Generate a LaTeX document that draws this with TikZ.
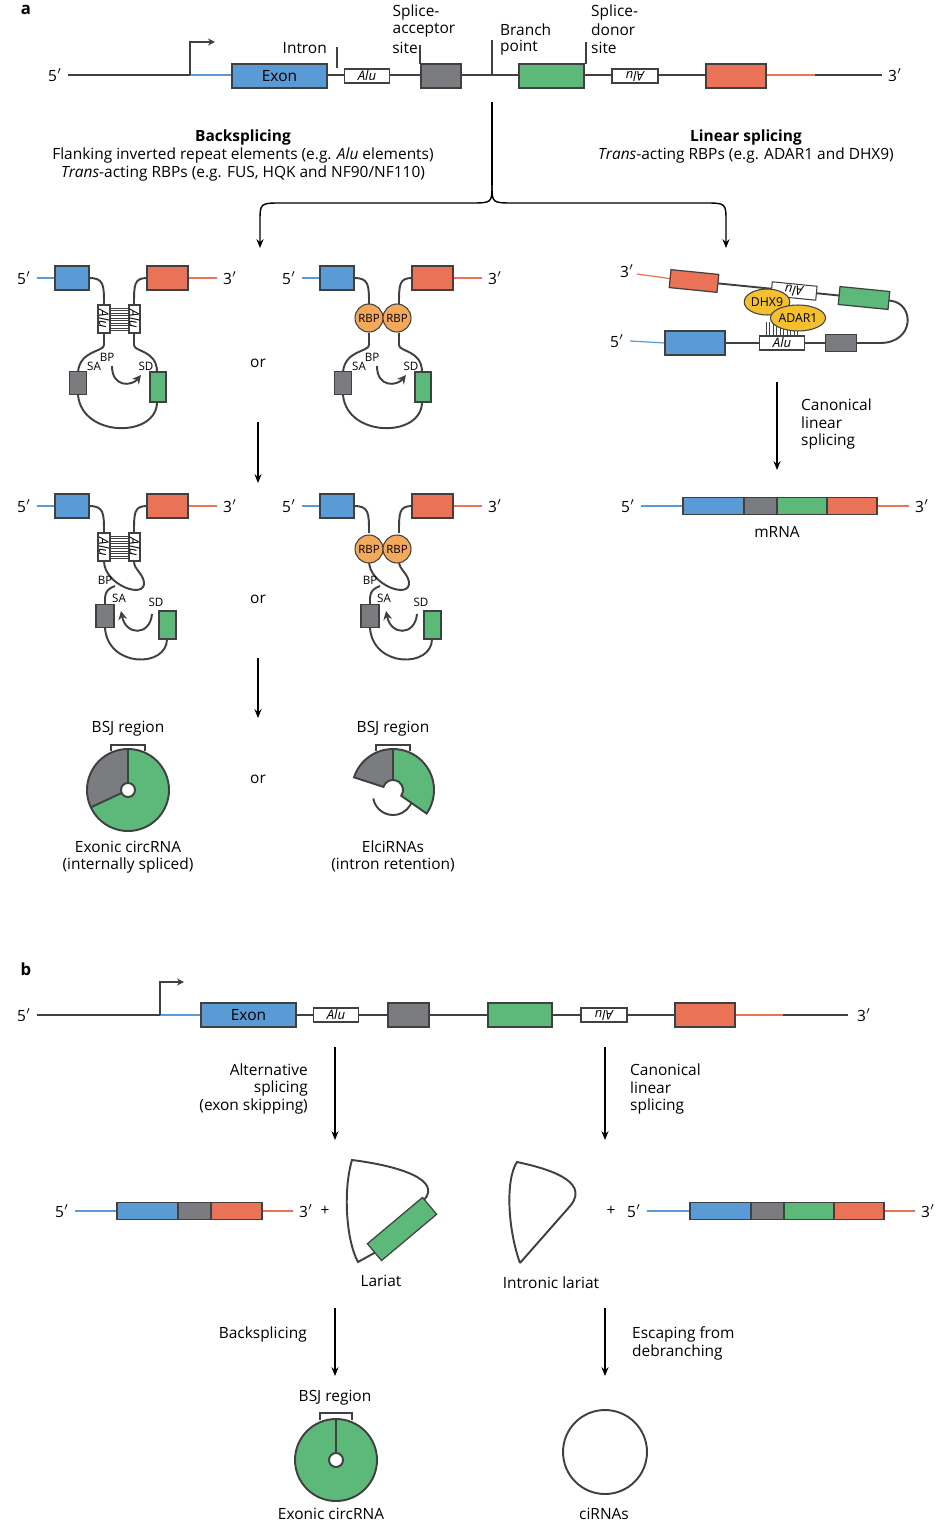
\documentclass[tikz,border=0pt]{standalone}
\usepackage{fontspec}
\setmainfont{Open Sans}
\usetikzlibrary{arrows.meta,shapes.geometric}
\definecolor{exblue}{RGB}{91,155,213}
\definecolor{exred}{RGB}{233,114,87}
\definecolor{exgrey}{RGB}{122,124,128}
\definecolor{exgreen}{RGB}{92,185,122}
\definecolor{rbporange}{RGB}{242,169,92}
\definecolor{helyellow}{RGB}{244,192,48}
\definecolor{strandc}{RGB}{64,64,64}
\tikzset{
  strand/.style={draw=strandc, line width=1.1pt},
  thinstr/.style={draw=strandc, line width=0.7pt},
  flow/.style={draw=black, line width=0.8pt, -{Stealth[length=5pt,width=4pt]}},
  gbox/.style={draw=strandc, line width=0.7pt, inner sep=0pt, minimum height=0.48cm},
  alubox/.style={draw=strandc, fill=white, line width=0.6pt, inner sep=0pt, minimum height=0.28cm, font=\fontsize{7.5}{8}\selectfont\itshape},
  rbp/.style={circle, draw=strandc, fill=rbporange, line width=0.6pt, inner sep=0pt, minimum size=0.56cm, font=\fontsize{6.5}{7}\selectfont},
  prot/.style={ellipse, draw=strandc, fill=helyellow, line width=0.6pt, inner sep=0pt, font=\fontsize{7}{8}\selectfont},
  lbl/.style={font=\fontsize{8.8}{10}\selectfont},
  sml/.style={font=\fontsize{6.6}{7}\selectfont}
}
% box spanning x from #2 to #3 at height #4
\newcommand\gene[5]{\node[gbox, fill=#5, minimum width={(#3-#2)*0.02cm}] (#1) at ({(#2+#3)/2},#4) {};}
\begin{document}
\begin{tikzpicture}[x=0.02cm, y=-0.02cm, every node/.style={lbl}]
\useasboundingbox (0,0) rectangle (942,1540);
\node[font=\fontsize{9.5}{10}\selectfont\bfseries] (pa) at (26,10) {a};
\node[font=\fontsize{9.5}{10}\selectfont\bfseries] (pb) at (26,969) {b};

% ---- panel a: gene ----
\node (a5) at (55,75) {5$'$};
\node (a3) at (895,75) {3$'$};
\draw[strand] (a5.east) -- (a3.west);
\draw[thinstr, exblue] (190,75) -- (232,75);
\draw[thinstr, exred] (766,75) -- (815,75);
\draw[thinstr, -{Stealth[length=4pt,width=4pt]}] (190,75) -- (190,42) -- (215,42);
\gene{aex}{232}{327}{76}{exblue}
\node[lbl] at (aex) {Exon};
\node[alubox, minimum width=0.9cm] (aalu) at (367,76) {Alu};
\gene{agr}{421}{461}{76}{exgrey}
\gene{agn}{519}{584}{76}{exgreen}
\node[alubox, minimum width=0.92cm] (aula) at (635,76) {\rotatebox{180}{Alu}};
\gene{ard}{706}{766}{76}{exred}
\draw[thinstr] (337,47) -- (337,68);
\draw[thinstr] (420,45) -- (420,64);
\draw[thinstr] (492,40) -- (492,75);
\draw[thinstr] (586,42) -- (586,64);
\node[anchor=east] at (333,48) {Intron};
\node at (416,12) {Splice-};
\node at (424,30) {acceptor};
\node at (405,48) {site};
\node[anchor=west] at (494,30) {Branch};
\node[anchor=west] at (494,48) {point};
\node[anchor=west] at (585,12) {Splice-};
\node[anchor=west] at (585,30) {donor};
\node[anchor=west] at (585,48) {site};

\node[font=\fontsize{8.8}{10}\selectfont\bfseries] at (243,137) {Backsplicing};
\node at (243,155) {Flanking inverted repeat elements (e.g. \textit{Alu} elements)};
\node at (243,173) {\textit{Trans}-acting RBPs (e.g. FUS, HQK and NF90/NF110)};
\node[font=\fontsize{8.8}{10}\selectfont\bfseries] at (746,137) {Linear splicing};
\node at (746,155) {\textit{Trans}-acting RBPs (e.g. ADAR1 and DHX9)};

\coordinate (split) at (492,102);
\draw[thinstr, draw=black, line width=0.8pt] (split) -- (492,185);
\draw[flow] (492,185) .. controls (492,203) .. (470,203) -- (282,203) .. controls (260,203) .. (260,222) -- (260,248);
\draw[flow] (492,185) .. controls (492,203) .. (514,203) -- (704,203) .. controls (726,203) .. (726,222) -- (726,248);

% ---- backsplicing, first row ----
\foreach \dx in {0,265}{
  \begin{scope}[xshift=\dx*0.02cm]
    \node (f\dx) at (24,278) {5$'$};
    \node (t\dx) at (230,278) {3$'$};
    \draw[thinstr, exblue] (f\dx.east) -- (55,278);
    \draw[thinstr, exred] (188,278) -- (t\dx.west);
    \draw[strand] (89,278) .. controls (104,278) and (104,285) .. (104,305);
    \draw[strand] (147,278) .. controls (134,278) and (134,285) .. (134,305);
    \draw[strand] (104,333) -- (104,345) .. controls (104,352) and (80,350) .. (78,372);
    \draw[strand] (134,333) -- (134,345) .. controls (134,352) and (157,350) .. (157,372);
    \draw[strand] (78,395) .. controls (82,438) and (157,438) .. (157,402);
    \gene{bl\dx}{55}{89}{278}{exblue}
    \gene{rd\dx}{147}{188}{278}{exred}
    \node[gbox, fill=exgrey, minimum width=0.34cm, minimum height=0.46cm] (gr\dx) at (78,383) {};
    \node[gbox, fill=exgreen, minimum width=0.32cm, minimum height=0.6cm] (gn\dx) at (158,387) {};
    \node[sml] at (94,366) {SA};
    \node[sml] at (107,357) {BP};
    \node[sml] at (146,366) {SD};
    \draw[strand, -{Stealth[length=5pt,width=5pt]}] (112,366) .. controls (112,388) and (132,386) .. (141,375);
  \end{scope}
}
\node[alubox, minimum width=0.56cm, minimum height=0.24cm, rotate=-90] (la1) at (104,319) {Alu};
\node[alubox, minimum width=0.56cm, minimum height=0.22cm, rotate=-90] (ra1) at (134.5,319) {Alu};
\foreach \yy in {308,310.5,...,331}{\draw[thinstr, line width=0.5pt] (110,\yy) -- (129,\yy);}
\node[rbp] (rbpa) at (369,318) {RBP};
\node[rbp] (rbpb) at (397,318) {RBP};
\node at (258,363) {or};
\draw[flow] (258,422) -- (258,483);

% ---- backsplicing, second row ----
\foreach \dx in {0,265}{
  \begin{scope}[xshift=\dx*0.02cm]
    \node (ff\dx) at (24,506) {5$'$};
    \node (tt\dx) at (230,506) {3$'$};
    \draw[thinstr, exblue] (ff\dx.east) -- (55,506);
    \draw[thinstr, exred] (188,506) -- (tt\dx.west);
    \draw[strand] (89,506) .. controls (104,506) and (104,513) .. (104,533);
    \draw[strand] (147,506) .. controls (134,506) and (134,513) .. (134,533);
    \draw[strand] (104,561) .. controls (104,585) and (146,600) .. (144,582) .. controls (142,572) and (134,570) .. (134,561);
    \draw[strand] (115,586) .. controls (104,590) and (105,596) .. (105,605);
    \draw[strand] (105,628) .. controls (108,668) and (167,668) .. (167,639);
    \gene{bbl\dx}{55}{89}{506}{exblue}
    \gene{brd\dx}{147}{188}{506}{exred}
    \node[gbox, fill=exgrey, minimum width=0.36cm, minimum height=0.46cm] (bgr\dx) at (105,616) {};
    \node[gbox, fill=exgreen, minimum width=0.34cm, minimum height=0.56cm] (bgn\dx) at (167.5,625) {};
    \node[sml] at (105,580) {BP};
    \node[sml] at (119,598) {SA};
    \node[sml] at (156,602) {SD};
    \draw[strand, -{Stealth[length=5pt,width=5pt]}] (152,614) .. controls (150,636) and (126,636) .. (121,611);
  \end{scope}
}
\node[alubox, minimum width=0.56cm, minimum height=0.24cm, rotate=-90] (la2) at (104,547) {Alu};
\node[alubox, minimum width=0.56cm, minimum height=0.22cm, rotate=-90] (ra2) at (134.5,547) {Alu};
\foreach \yy in {536,538.5,...,559}{\draw[thinstr, line width=0.5pt] (110,\yy) -- (129,\yy);}
\node[rbp] (rbpc) at (369,549) {RBP};
\node[rbp] (rbpd) at (397,549) {RBP};
\node at (258,599) {or};
\draw[flow] (258,658) -- (258,718);

% ---- circRNA products ----
\node at (128,729) {BSJ region};
\draw[thinstr] (111,751) -- (111,745) -- (145,745) -- (145,751);
\begin{scope}[shift={(128,790)}, y=0.02cm]
  \fill[exgreen] (0,0) circle[radius=41];
  \fill[exgrey] (0,0) -- (90:41) arc[start angle=90, end angle=205, radius=41] -- cycle;
  \draw[strand] (0,0) circle[radius=41];
  \draw[strand] (0,0) -- (90:41) (0,0) -- (205:41);
  \draw[strand, fill=white] (0,0) circle[radius=7];
\end{scope}
\node at (128,847) {Exonic circRNA};
\node at (128,865) {(internally spliced)};
\node at (258,779) {or};
\node at (393,729) {BSJ region};
\draw[thinstr] (376,751) -- (376,745) -- (410,745) -- (410,751);
\begin{scope}[shift={(393,790)}, y=0.02cm]
  \draw[strand] (0,-5) ++(190:20) arc[start angle=190, end angle=345, radius=20];
  \draw[strand, fill=exgreen] (90:10) -- (90:41) arc[start angle=90, end angle=-35, radius=41] -- (-35:10) arc[start angle=-35, end angle=90, radius=10] -- cycle;
  \draw[strand, fill=exgrey] (90:10) -- (90:41) arc[start angle=90, end angle=162, radius=41] -- (162:10) arc[start angle=162, end angle=90, radius=10] -- cycle;
\end{scope}
\node at (393,847) {ElciRNAs};
\node at (393,865) {(intron retention)};

% ---- linear splicing ----
\node (r3) at (627,271) {3$'$};
\node (r5) at (617,341) {5$'$};
\draw[thinstr, exred] (637,274) -- (670,278.6);
\draw[strand] (670,278.6) -- (890,300.6) .. controls (915,303) and (915,343) .. (880,343) -- (665,343);
\draw[thinstr, exblue] (r5.east) -- (665,343);
\node[gbox, fill=exred, minimum width=0.96cm, minimum height=0.36cm, rotate=-5.7] (rrd) at (694,281) {};
\node[alubox, minimum width=0.9cm, rotate=-5.7] (rula) at (794,291) {\rotatebox{180}{Alu}};
\node[gbox, fill=exgreen, minimum width=1cm, minimum height=0.36cm, rotate=-5.7] (rgn) at (864,298) {};
\gene{rbl}{665}{725}{343}{exblue}
\node[gbox, fill=exgrey, minimum width=0.62cm, minimum height=0.34cm] (rgr) at (841,343) {};
\node[alubox, minimum width=0.9cm] (ralu) at (782,343) {Alu};
\foreach \xx in {766,769.5,...,800}{\draw[thinstr, line width=0.5pt] (\xx,322) -- (\xx,336);}
\node[prot, minimum width=0.8cm, minimum height=0.52cm] (dhx) at (767,302) {DHX9};
\node[prot, minimum width=0.96cm, minimum height=0.52cm] (adar) at (798,318) {ADAR1};
\draw[flow] (777,382) -- (777,470);
\node[anchor=west] at (795,405) {Canonical};
\node[anchor=west] at (795,423) {linear};
\node[anchor=west] at (795,441) {splicing};
\node (m5) at (628,506) {5$'$};
\node (m3) at (922,506) {3$'$};
\draw[thinstr, exblue] (m5.east) -- (683,506);
\draw[thinstr, exred] (877,506) -- (m3.west);
\node[gbox, fill=exblue, minimum width=1.22cm, minimum height=0.34cm] (mbl) at (713.5,506) {};
\node[gbox, fill=exgrey, minimum width=0.66cm, minimum height=0.34cm] (mgr) at (760.5,506) {};
\node[gbox, fill=exgreen, minimum width=1cm, minimum height=0.34cm] (mgn) at (802,506) {};
\node[gbox, fill=exred, minimum width=1cm, minimum height=0.34cm] (mrd) at (852,506) {};
\node at (777,532) {mRNA};

% ---- panel b: gene ----
\node (b5) at (24,1015) {5$'$};
\node (b3) at (864,1015) {3$'$};
\draw[strand] (b5.east) -- (848,1015);
\draw[thinstr, exblue] (160,1015) -- (201,1015);
\draw[thinstr, exred] (735,1015) -- (783,1015);
\draw[thinstr, -{Stealth[length=4pt,width=4pt]}] (160,1015) -- (160,982) -- (184,982);
\gene{bex}{201}{296}{1015}{exblue}
\node at (bex) {Exon};
\node[alubox, minimum width=0.9cm] (balu) at (336,1015) {Alu};
\gene{bgr}{388}{429}{1015}{exgrey}
\gene{bgn}{488}{552}{1015}{exgreen}
\node[alubox, minimum width=0.92cm] (bula) at (604,1015) {\rotatebox{180}{Alu}};
\gene{brd}{675}{735}{1015}{exred}

\draw[flow] (335,1047) -- (335,1140);
\node[anchor=east] at (314,1070) {Alternative};
\node[anchor=east] at (314,1088) {splicing};
\node[anchor=east] at (314,1106) {(exon skipping)};
\draw[flow] (605,1047) -- (605,1140);
\node[anchor=west] at (624,1070) {Canonical};
\node[anchor=west] at (624,1088) {linear};
\node[anchor=west] at (624,1106) {splicing};

% skipped mRNA, lariat
\node (s5) at (62,1211) {5$'$};
\node (s3) at (306,1211) {3$'$};
\draw[thinstr, exblue] (s5.east) -- (117,1211);
\draw[thinstr, exred] (262,1211) -- (s3.west);
\node[gbox, fill=exblue, minimum width=1.22cm, minimum height=0.34cm] (sbl) at (147.5,1211) {};
\node[gbox, fill=exgrey, minimum width=0.66cm, minimum height=0.34cm] (sgr) at (194.5,1211) {};
\node[gbox, fill=exred, minimum width=1.02cm, minimum height=0.34cm] (srd) at (236.5,1211) {};
\node at (325,1211) {+};
\draw[strand] (424,1200) .. controls (442,1180) and (400,1166) .. (352,1160) .. controls (343,1190) and (346,1240) .. (358,1262) -- (376,1252);
\node[gbox, fill=exgreen, minimum width=1.44cm, minimum height=0.44cm, rotate=40] (lgn) at (402,1229) {};
\node at (381,1281) {Lariat};
\draw[strand] (520,1263) .. controls (508,1230) and (505,1180) .. (517,1162) .. controls (545,1168) and (590,1180) .. (571,1205) -- (520,1263);
\node at (551,1283) {Intronic lariat};
\node at (611,1211) {+};
\node (c5) at (634,1211) {5$'$};
\node (c3) at (928,1211) {3$'$};
\draw[thinstr, exblue] (c5.east) -- (690,1211);
\draw[thinstr, exred] (884,1211) -- (c3.west);
\node[gbox, fill=exblue, minimum width=1.22cm, minimum height=0.34cm] (cbl) at (720.5,1211) {};
\node[gbox, fill=exgrey, minimum width=0.66cm, minimum height=0.34cm] (cgr) at (767.5,1211) {};
\node[gbox, fill=exgreen, minimum width=1cm, minimum height=0.34cm] (cgn) at (809,1211) {};
\node[gbox, fill=exred, minimum width=1cm, minimum height=0.34cm] (crd) at (859,1211) {};

\draw[flow] (335,1308) -- (335,1376);
\node[anchor=east] at (313,1334) {Backsplicing};
\draw[flow] (605,1308) -- (605,1376);
\node[anchor=west] at (626,1334) {Escaping from};
\node[anchor=west] at (626,1352) {debranching};

\node at (335,1398) {BSJ region};
\draw[thinstr] (320,1420) -- (320,1413) -- (352,1413) -- (352,1420);
\begin{scope}[shift={(336,1460)}, y=0.02cm]
  \draw[strand, fill=exgreen] (0,0) circle[radius=41];
  \draw[strand] (0,0) -- (90:41);
  \draw[strand, fill=white] (0,0) circle[radius=7];
\end{scope}
\node at (331,1514) {Exonic circRNA};
\node[circle, strand, minimum size=1.68cm] (cirna) at (605,1452) {};
\node at (604,1514) {ciRNAs};
\end{tikzpicture}
\end{document}
